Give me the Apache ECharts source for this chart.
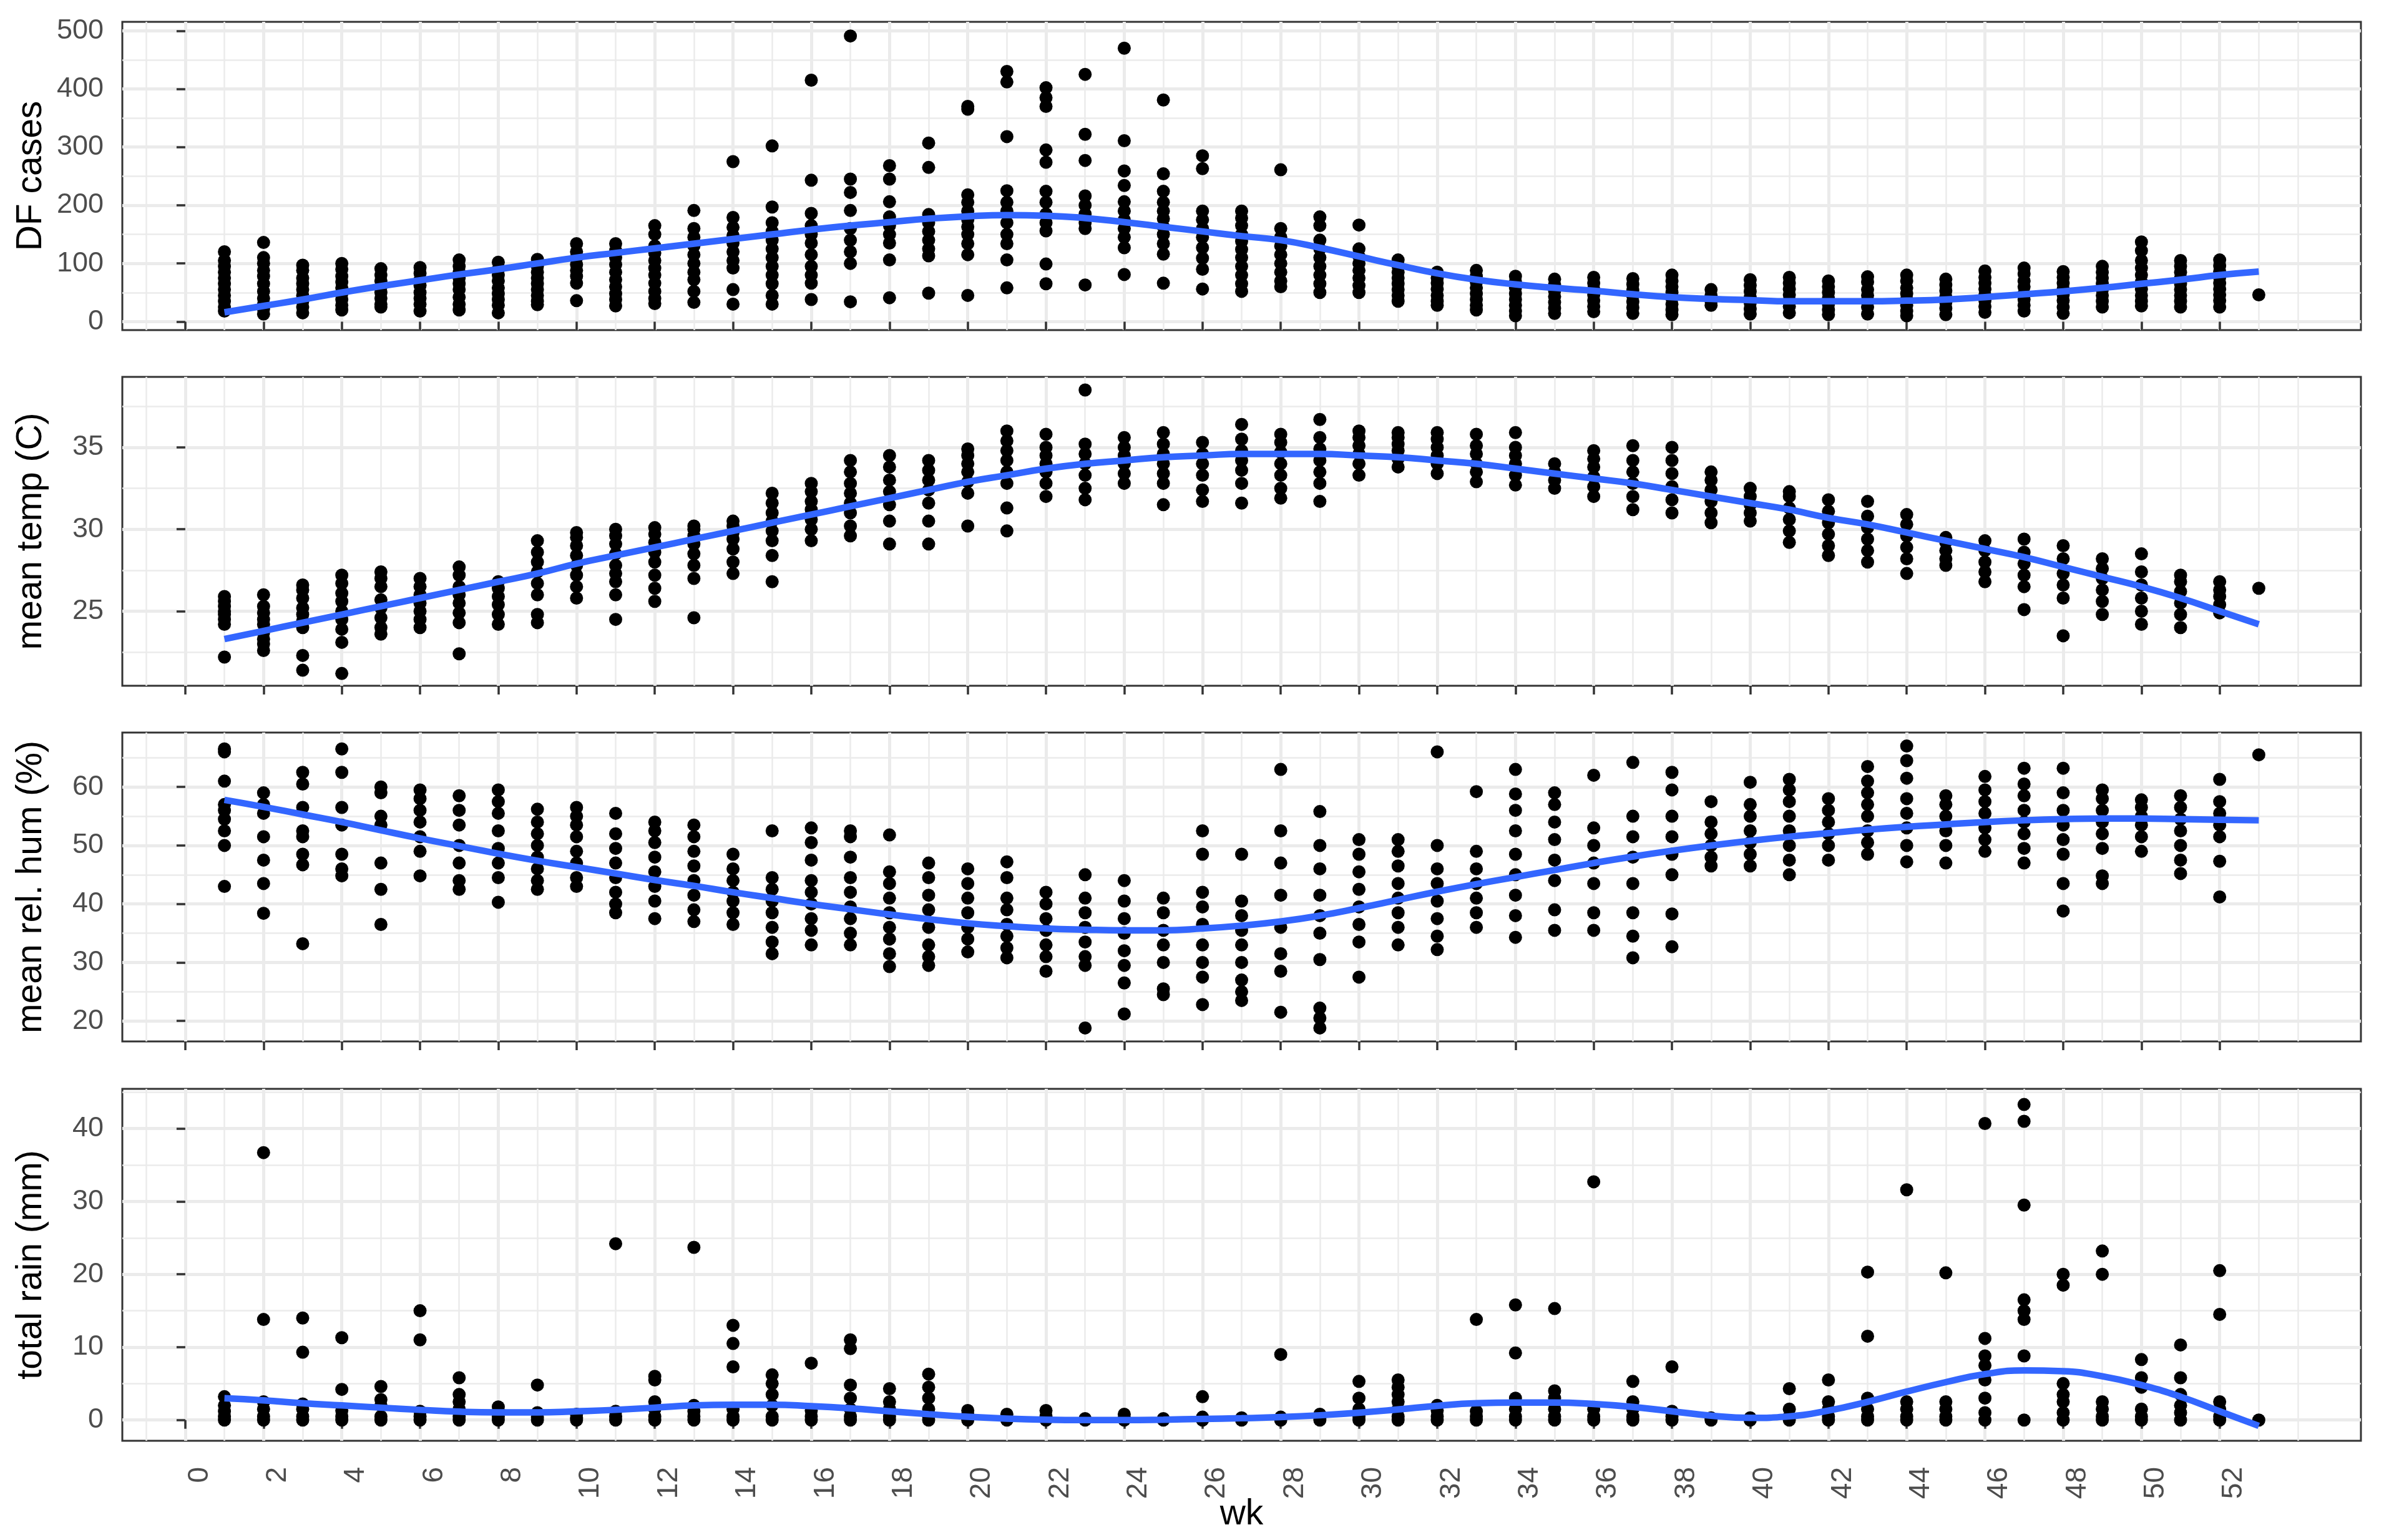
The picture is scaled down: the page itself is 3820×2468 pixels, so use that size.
<!DOCTYPE html>
<html>
<head>
<meta charset="utf-8">
<script src="https://cdn.jsdelivr.net/npm/echarts@6/dist/echarts.min.js"></script>
<style>html,body{margin:0;padding:0;background:#fff}#c{width:3820px;height:2468px}</style>
</head>
<body>
<div id="c"></div>
<script>
// ---------- data ----------
const weeks = [1,2,3,4,5,6,7,8,9,10,11,12,13,14,15,16,17,18,19,20,21,22,23,24,25,26,27,28,29,30,31,32,33,34,35,36,37,38,39,40,41,42,43,44,45,46,47,48,49,50,51,52,53];
const xTicks = [0,2,4,6,8,10,12,14,16,18,20,22,24,26,28,30,32,34,36,38,40,42,44,46,48,50,52];
const xMinorTicks = [-1,1,3,5,7,9,11,13,15,17,19,21,23,25,27,29,31,33,35,37,39,41,43,45,47,49,51,53,54];

const dfCases = [
 [120,105,95,85,75,65,55,45,35,25,18],[136,110,100,88,78,65,52,40,30,22,13],[97,88,75,65,55,45,35,25,15],
 [100,90,78,68,58,48,38,28,20],[91,80,70,60,50,40,30,25],[93,83,72,62,50,40,30,18],
 [106,95,85,75,65,55,42,30,20],[102,90,80,70,58,48,38,28,15],[107,95,85,75,65,55,45,35,29],
 [134,120,110,98,88,78,66,36],[134,122,110,98,85,72,60,48,38,27],[165,150,130,118,105,92,80,66,52,40,31],
 [191,160,145,130,115,100,85,72,52,33],[275,179,162,148,135,120,105,92,55,30],[302,197,170,155,140,125,110,95,80,65,45,30],
 [415,243,186,165,150,135,115,95,80,66,38],[491,245,222,191,160,140,120,100,34],[268,245,206,180,165,150,135,106,41],
 [307,265,184,170,155,140,125,113,49],[370,365,218,205,190,175,163,150,134,115,45],[430,412,318,225,205,190,170,150,134,106,58],
 [402,385,370,295,274,224,205,185,170,156,99,65],[425,322,277,216,200,185,170,160,63],[470,311,259,234,206,190,175,160,145,127,81],
 [381,254,224,205,190,177,163,150,134,116,66],[285,263,190,175,160,145,127,109,90,56],[190,178,165,150,138,124,110,95,80,65,52],
 [261,160,145,130,115,100,85,70,60],[180,165,140,125,110,95,80,65,50],[166,125,112,100,88,75,62,50],
 [106,95,85,75,65,55,45,35],[85,75,66,56,45,35,28],[88,78,68,58,48,38,28,20],
 [78,68,58,48,38,28,18,10],[73,63,53,43,33,23,14],[76,66,56,46,36,26,17],
 [74,64,54,44,34,24,14],[80,70,60,50,40,30,20,12],[55,45,35,28],
 [72,62,52,42,32,22,13],[76,66,56,46,36,26,15],[70,60,50,40,30,20,12],
 [77,68,55,45,35,25,13],[80,70,58,48,38,28,18,10],[73,63,53,43,33,23,12],
 [87,76,66,56,46,36,26,16],[92,82,70,60,48,38,28,18],[86,76,66,56,46,36,25,14],
 [95,85,75,65,55,45,35,25],[137,122,105,92,80,68,56,45,35,27],[105,95,85,75,65,55,45,35,25],
 [106,96,86,76,66,56,46,36,25],[46]
];
const dfSmooth = [16,27,38,50,61,71,81,90,100,110,118,126,134,142,150,158,165,171,177,181,183,182,178,171,163,155,147,140,127,112,97,83,72,64,58,53,47,42,39,37,35,35,35,36,38,42,47,52,58,65,72,80,86];

const meanTemp = [
 [22.2,24.2,24.5,24.8,25.0,25.3,25.6,25.9],[22.6,23.0,23.3,23.7,24.2,24.5,24.9,25.3,26.0],[21.4,22.3,24.0,24.4,24.8,25.2,25.8,26.3,26.6],
 [21.2,23.1,23.9,24.5,25.0,25.6,26.1,26.7,27.2],[23.6,24.0,24.6,25.2,25.7,26.5,27.0,27.4],[24.0,24.5,25.0,25.5,26.0,26.5,27.0],
 [22.4,24.3,24.9,25.5,26.0,26.5,27.2,27.7],[24.2,24.8,25.4,25.9,26.4,26.8],[24.3,24.8,26.0,26.7,27.4,28.0,28.6,29.3],
 [25.8,26.5,27.2,27.8,28.4,29.0,29.5,29.8],[24.5,26.0,26.8,27.3,27.8,28.5,29.1,29.6,30.0],[25.6,26.4,27.2,28.0,28.6,29.2,29.7,30.1],
 [24.6,27.0,27.8,28.5,29.1,29.6,30.0,30.2],[27.3,28.0,28.8,29.4,29.8,30.2,30.5],[26.8,28.4,29.3,29.9,30.5,31.0,31.6,32.2],
 [29.3,30.0,30.6,31.2,31.7,32.3,32.8],[29.6,30.2,31.0,31.6,32.2,32.8,33.5,34.2],[29.1,30.5,31.5,32.3,33.0,33.8,34.5],
 [29.1,30.5,31.6,32.4,33.0,33.6,34.2],[30.2,32.2,32.9,33.5,34.0,34.5,34.9],[29.9,31.3,32.8,33.5,34.2,34.8,35.4,36.0],
 [32.0,32.8,33.5,34.0,34.5,35.0,35.8],[31.8,32.5,33.3,34.0,34.6,35.2,38.5],[32.8,33.4,34.0,34.5,35.0,35.6],
 [31.5,32.8,33.4,34.0,34.6,35.2,35.9],[31.7,32.4,33.3,34.0,34.6,35.3],[31.6,32.8,33.6,34.2,34.8,35.5,36.4],
 [31.9,32.5,33.3,34.0,34.7,35.3,35.8],[31.7,32.8,33.5,34.2,34.9,35.6,36.7],[33.3,34.0,34.6,35.1,35.6,36.0],
 [33.8,34.3,34.8,35.2,35.6,35.9],[33.4,34.0,34.5,35.0,35.5,35.9],[32.9,33.5,34.0,34.6,35.1,35.8],
 [32.7,33.3,34.0,34.5,35.0,35.9],[32.5,33.0,33.5,34.0],[32.0,32.6,33.2,33.8,34.3,34.8],
 [31.2,32.0,32.8,33.5,34.2,35.1],[31.0,31.8,32.6,33.4,34.2,35.0],[30.4,31.0,31.7,32.4,33.0,33.5],
 [30.5,31.0,31.5,32.0,32.5],[29.2,29.9,30.6,31.3,32.0,32.3],[28.4,29.0,29.7,30.4,31.1,31.8],
 [28.0,28.7,29.4,30.1,30.8,31.7],[27.3,28.2,28.9,29.6,30.3,30.9],[27.8,28.2,28.7,29.2,29.5],
 [26.8,27.4,28.0,28.7,29.3],[25.1,26.5,27.2,27.9,28.6,29.4],[23.5,25.8,26.6,27.3,28.2,29.0],
 [24.8,25.6,26.3,27.0,27.6,28.2],[24.2,25.0,25.8,26.6,27.4,28.5],[24.0,24.8,25.5,26.2,26.8,27.2],
 [24.9,25.4,25.9,26.3,26.8],[26.4]
];
const tempSmooth = [23.3,23.8,24.3,24.8,25.3,25.8,26.3,26.8,27.3,27.9,28.4,28.9,29.4,29.9,30.4,30.9,31.4,31.9,32.4,32.9,33.3,33.7,34.0,34.2,34.4,34.5,34.6,34.6,34.6,34.5,34.4,34.2,34.0,33.7,33.4,33.1,32.8,32.4,32.0,31.6,31.2,30.7,30.3,29.8,29.3,28.8,28.3,27.7,27.1,26.5,25.8,25.0,24.2];

const meanHum = [
 [43,50,52.5,54.5,56,57,61,66.5,66],[38.4,43.5,47.5,51.5,55.5,57,59],[33.2,46.7,48.5,51.5,52.5,56.5,60.5,62.5],
 [44.8,46,48.5,53.5,56.5,62.5,66.5],[36.5,42.5,47,53.5,55,59,60],[44.8,49,51.5,54,56,58,59.5],
 [42.5,44,47,50,53.5,56,58.5],[40.3,44.5,47,49.5,52.5,55.5,57.5,59.5],[42.5,44,46,48,50,52,54,56.2],
 [43,44.5,47,49,51.5,53.5,55,56.5],[38.5,40,42,44.5,47,49.5,52,55.5],[37.5,40.5,43,45.5,48,50.5,52.5,54],
 [37,39,41.5,44,46.5,49,51.5,53.5],[36.5,38.5,40.5,42,44,46,48.5],[31.5,33.5,36,38.5,40.5,42.5,44.5,52.5],
 [33,35.5,37.5,40,42,44,47.5,50.5,53],[33,35,37.5,39.5,42,44.5,48,51.5,52.5],[29.3,31.5,34,36,38.5,41,43.5,45.5,51.8],
 [29.5,31,33,36,39,41.5,44.5,47],[31.8,34,36,38.5,41,43.5,46],[30.8,32.5,34.5,36.5,39,41,44.5,47.2],
 [28.5,31,33,35.5,37.5,40,42],[18.8,29.5,31,33.5,36,38.5,41,45],[21.2,26.5,29.5,32,35,37.5,40.5,44],
 [24.5,25.5,30,33,35.5,38.5,41],[22.8,27.5,30,33,36.5,39.5,42,48.5,52.5],[23.5,25,27,30,33,35.5,38,40.5,48.5],
 [21.5,28.5,31.5,36,41.5,47,52.5,63],[18.8,20.5,22.2,30.5,35,38,41.5,46,50,55.8],[27.5,33.5,36.5,39.5,42.5,45.5,48.5,51],
 [33,36,38.5,41,43.5,46.5,49,51],[32.2,34.5,37.5,40.5,43.5,46,50,66],[36,38.5,41,43.5,46,49,59.2],
 [34.3,38,41.5,45,48.5,52.5,56,58.8,63],[35.5,39,44,47.5,51,54,57,59],[35.5,38.5,43.5,47,50,53,62],
 [30.8,34.5,38.5,43.5,48,51.5,55,64.2],[32.7,38.3,45,48.5,51.5,55,59.5,62.5],[46.5,48,50,52,54,57.5],
 [46.5,48.5,50.5,52.5,55,57,60.8],[45,47.5,50,52.5,55,57.5,59.5,61.3],[47.5,50,52,54,56,58],
 [48.5,50.5,52.5,55,57,59,61,63.5],[47.2,50,53,55.5,58,61.5,64.5,67],[47,50,52.5,55,57,58.5],
 [49,51,53,55.5,57.5,59.5,61.8],[47,49.5,52,54,56,58.5,60.5,63.2],[38.8,43.5,48.5,51,53.5,56,59,63.2],
 [43.5,44.8,49.5,52,54,56,58,59.5],[49,51.5,53.5,55,56.5,57.8],[45.2,47.5,50,52.5,54.5,56.5,58.5],
 [41.2,47.3,51.5,53.5,55.5,57.5,61.3],[65.5]
];
const humSmooth = [57.8,56.6,55.3,54.0,52.6,51.2,49.9,48.6,47.4,46.3,45.2,44.1,43.1,42.0,41.0,40.0,39.1,38.2,37.4,36.7,36.2,35.8,35.6,35.5,35.5,35.8,36.3,37.0,38.0,39.3,40.7,42.1,43.4,44.6,45.8,47.0,48.1,49.1,50.0,50.8,51.5,52.1,52.7,53.2,53.6,54.0,54.3,54.5,54.6,54.6,54.5,54.4,54.3];

const totalRain = [
 [0,0.5,1.2,2,3.2],[0,0.5,1.5,2.5,13.8,36.7],[0,0.5,1.5,2.2,9.3,14],
 [0,0.5,1.3,4.2,11.3],[0,0.5,2,2.8,4.6],[0,0.5,1.2,11,15],
 [0,0.5,1.5,2.5,3.5,5.8],[0,0.5,1.2,1.8],[0,0.4,1,4.8],
 [0,0.3,0.8],[0,0.5,1.2,24.2],[0,0.5,1.5,2.5,5.5,6],
 [0,0.5,1.2,2,23.7],[0,0.5,1.5,7.3,10.5,13],[0,0.5,2,3.5,5,6.2],
 [0,0.5,1.3,7.8],[0,0.5,1.5,3,4.8,9.8,11],[0,0.5,1.5,2.5,4.3],
 [0,0.5,1.5,3,4.5,6.3],[0,0.3,0.8,1.3],[0,0.3,0.8],
 [0,0.5,1.3],[0,0.2],[0,0.3,0.8],
 [0,0.2],[0,0.4,3.2],[0,0.3],
 [0,0.4,9],[0,0.3,0.8],[0,0.5,1.5,3,5.3],
 [0,0.5,1.5,2.5,3.5,4.5,5.5],[0,0.5,1.3,2],[0,0.5,1.2,13.8],
 [0,0.5,1.5,3,9.2,15.8],[0,0.5,1.5,3,4,15.3],[0,0.5,1.5,32.7],
 [0,0.5,1.5,2.5,5.3],[0,0.5,1.2,7.3],[0,0.3],
 [0,0.3],[0,0.5,1.5,4.3],[0,0.5,1.5,2.5,5.5],
 [0,0.5,1.5,3,11.5,20.3],[0,0.5,1.5,2.5,31.6],[0,0.5,1.5,2.5,20.2],
 [0,1,3,5.5,7.5,8.8,11.2,40.7],[0,8.8,13.8,15,16.5,29.5,41,43.3],[0,1,2.5,3.5,5,18.5,20],
 [0,0.5,1.5,2.5,20,23.2],[0,0.5,1.5,4.5,5.8,8.3],[0,1,2,3.5,5.8,10.3],
 [0,0.5,1.5,2.5,14.5,20.5],[0]
];
const rainSmooth = [3.0,2.7,2.3,2.0,1.7,1.4,1.15,1.05,1.05,1.2,1.4,1.7,2.0,2.1,2.1,1.9,1.6,1.2,0.8,0.45,0.2,0.05,0,0,0.05,0.15,0.25,0.4,0.65,1.0,1.45,1.95,2.3,2.4,2.4,2.2,1.8,1.2,0.6,0.3,0.5,1.3,2.5,3.9,5.2,6.3,6.8,6.7,6.0,4.8,3.2,1.2,-0.8];

const dfTicks = [0,100,200,300,400,500];      const dfMinor = [50,150,250,350,450];
const tempTicks = [25,30,35];                  const tempMinor = [22.5,27.5,32.5,37.5];
const humTicks = [20,30,40,50,60];             const humMinor = [25,35,45,55,65];
const rainTicks = [0,10,20,30,40];             const rainMinor = [5,15,25,35,45];
const yTitles = ['DF cases','mean temp (C)','mean rel. hum (%)','total rain (mm)'];

// ---------- chart ----------
const FONT = '"Liberation Sans", Arial, sans-serif';
const panels = [
  {title: yTitles[0], pts: dfCases,   sm: dfSmooth,   min: -14.6, max: 515.3, ticks: dfTicks,   minor: dfMinor,   top: 35,   height: 494},
  {title: yTitles[1], pts: meanTemp,  sm: tempSmooth, min: 20.45, max: 39.3,  ticks: tempTicks, minor: tempMinor, top: 604,  height: 495},
  {title: yTitles[2], pts: meanHum,   sm: humSmooth,  min: 16.5,  max: 69.3,  ticks: humTicks,  minor: humMinor,  top: 1174, height: 495},
  {title: yTitles[3], pts: totalRain, sm: rainSmooth, min: -2.85, max: 45.45, ticks: rainTicks, minor: rainMinor, top: 1745, height: 564}
];
const XMIN = -1.61, XMAX = 55.61;
const grids = [], xAxes = [], yAxes = [], series = [];
const tickStyle = {color: '#333333', width: 3.5};
const majorGrid = {color: '#EBEBEB', width: 5};
const minorGrid = {color: '#EBEBEB', width: 2.5};

panels.forEach((p, i) => {
  grids.push({left: 196, right: 37, top: p.top, height: p.height, show: true,
    backgroundColor: '#FFFFFF', borderColor: '#333333', borderWidth: 3,
    containLabel: false, outerBoundsMode: 'none'});
  const last = i === panels.length - 1;
  xAxes.push({type: 'value', gridIndex: i, min: XMIN, max: XMAX, position: 'bottom',
    axisLine: {show: false},
    axisTick: {show: true, length: 14, lineStyle: tickStyle, customValues: xTicks},
    axisLabel: {show: last, customValues: xTicks, rotate: 90, margin: 42, fontSize: 46,
      color: '#4D4D4D', fontFamily: FONT, verticalAlign: 'top', formatter: v => String(v)},
    splitLine: {show: true, lineStyle: majorGrid},
    name: last ? 'wk' : '', nameLocation: 'middle', nameGap: 90, nameMoveOverlap: false,
    nameTextStyle: {fontSize: 57, color: '#000000', fontFamily: FONT}});
  xAxes.push({type: 'value', gridIndex: i, min: XMIN, max: XMAX, position: 'top',
    axisLine: {show: false}, axisTick: {show: false, customValues: xMinorTicks},
    axisLabel: {show: false, customValues: xMinorTicks},
    splitLine: {show: true, lineStyle: minorGrid}});
  yAxes.push({type: 'value', gridIndex: i, min: p.min, max: p.max, position: 'left',
    axisLine: {show: false},
    axisTick: {show: true, length: 14, lineStyle: tickStyle, customValues: p.ticks},
    axisLabel: {show: true, customValues: p.ticks, margin: 30, fontSize: 45, color: '#4D4D4D',
      fontFamily: FONT, formatter: v => String(v)},
    splitLine: {show: true, lineStyle: majorGrid},
    name: p.title, nameLocation: 'middle', nameGap: 117, nameRotate: 90, nameMoveOverlap: false,
    nameTextStyle: {fontSize: 57, color: '#000000', fontFamily: FONT}});
  yAxes.push({type: 'value', gridIndex: i, min: p.min, max: p.max, position: 'right',
    axisLine: {show: false}, axisTick: {show: false, customValues: p.minor},
    axisLabel: {show: false, customValues: p.minor},
    splitLine: {show: true, lineStyle: minorGrid}});
  const data = [];
  weeks.forEach((w, k) => { p.pts[k].forEach(v => data.push([w, v])); });
  series.push({type: 'scatter', xAxisIndex: 2 * i, yAxisIndex: 2 * i, data: data,
    symbol: 'circle', symbolSize: 21, itemStyle: {color: '#000000', opacity: 1}, silent: true, z: 3});
  series.push({type: 'line', xAxisIndex: 2 * i, yAxisIndex: 2 * i,
    data: weeks.map((w, k) => [w, p.sm[k]]), smooth: 0.5, symbol: 'none',
    lineStyle: {color: '#3366FF', width: 10.5}, silent: true, z: 4});
});

const chart = echarts.init(document.getElementById('c'), null, {renderer: 'canvas'});
chart.setOption({animation: false, backgroundColor: '#FFFFFF',
  grid: grids, xAxis: xAxes, yAxis: yAxes, series: series});
</script>
</body>
</html>
